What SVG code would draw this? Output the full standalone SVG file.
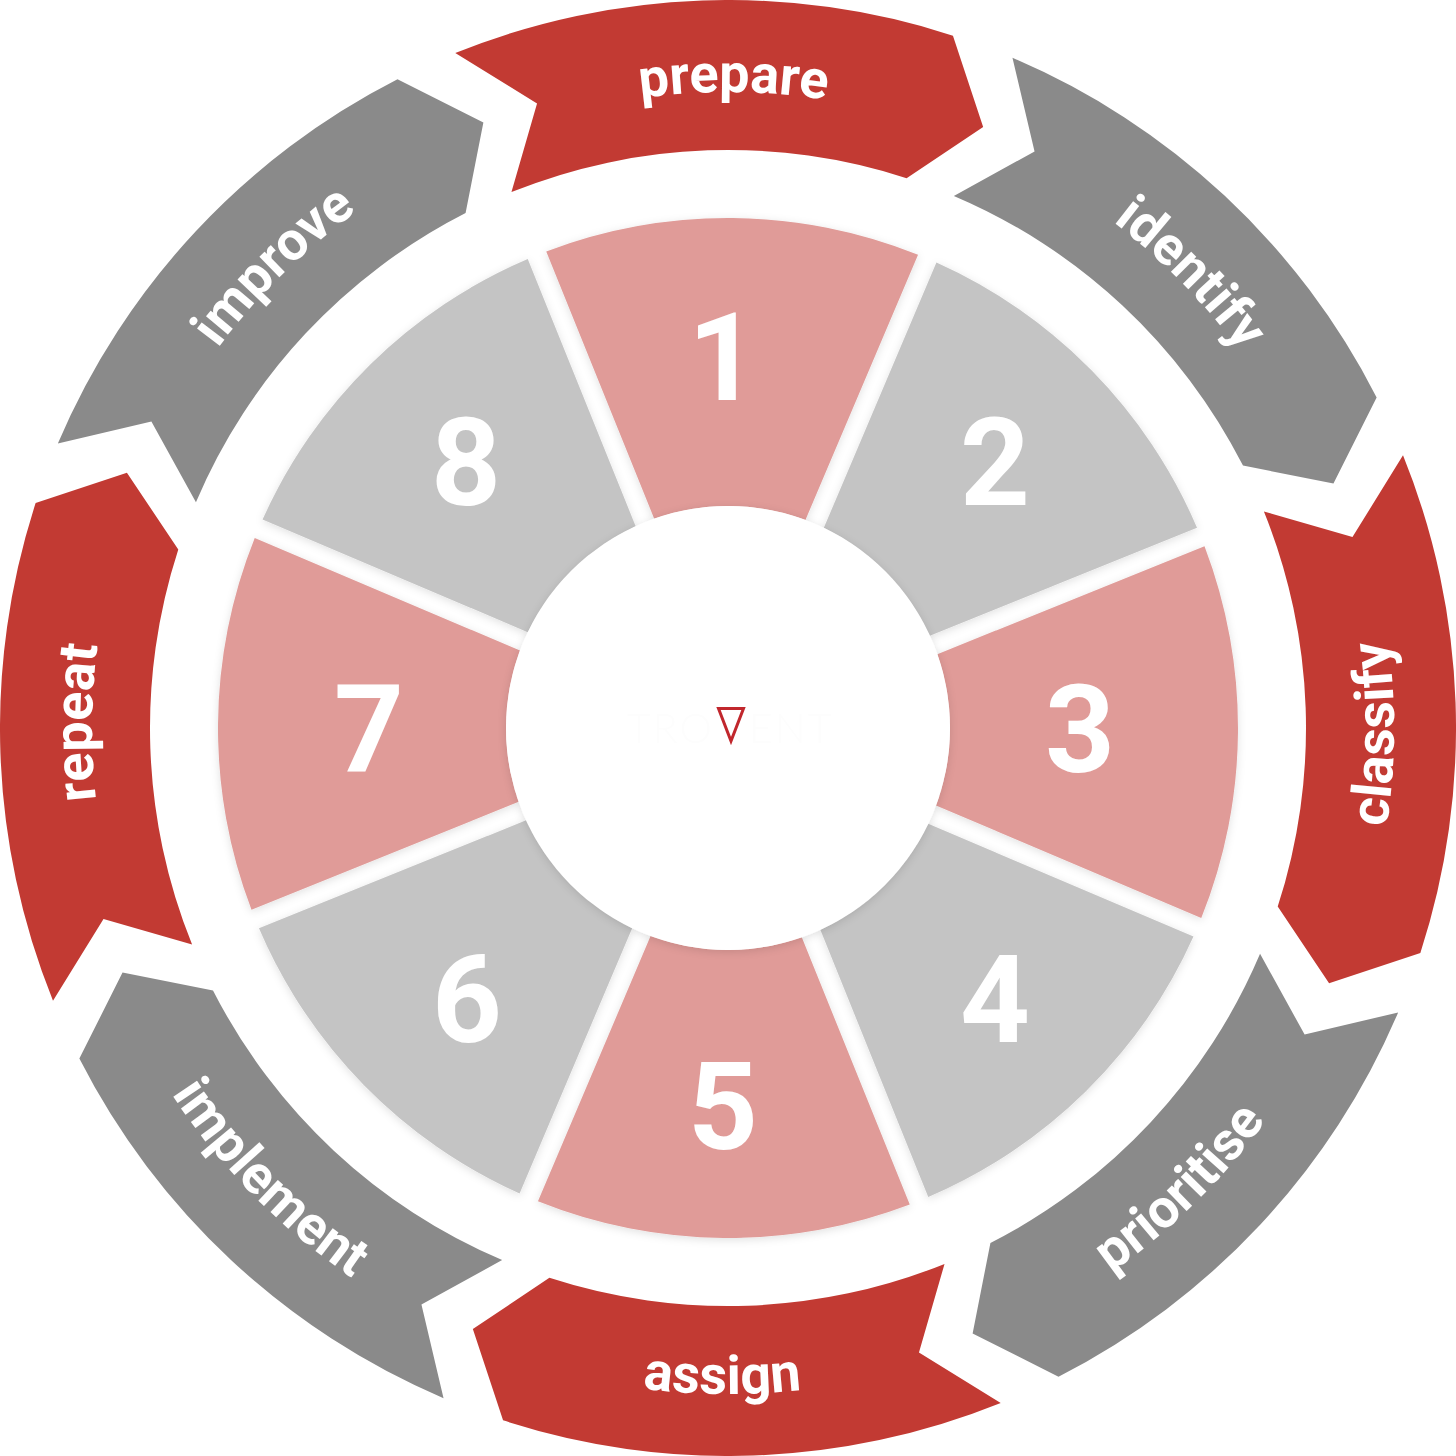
<svg xmlns="http://www.w3.org/2000/svg" xmlns:xlink="http://www.w3.org/1999/xlink" width="1456" height="1456" viewBox="0 0 1456 1456">
<style>
.red{fill:#C23A33}
.gray{fill:#8A8A8A}
.pink{fill:#E09B98}
.lgray{fill:#C4C4C4}
.lbl{font-family:Roboto,"Liberation Sans",sans-serif;font-weight:700;font-size:54px;fill:#FFFFFF}
.num{font-family:Roboto,"Liberation Sans",sans-serif;font-weight:700;font-size:122px;fill:#FFFFFF;text-anchor:middle}
.logo{font-family:Lato,"Liberation Sans",sans-serif;font-weight:300;font-size:41px;fill:#FDFDFD;letter-spacing:2px}
</style>
<defs>
<filter id="sh" x="-20%" y="-20%" width="140%" height="140%">
<feDropShadow dx="0" dy="2" stdDeviation="4" flood-color="#000" flood-opacity="0.12"/>
</filter>
<path id="arrow" d="M 449.4 55.4 A 728 728 0 0 1 946.9 33.7 L 977.9 124.7 L 901.8 176.75 A 578 578 0 0 0 506.8 194.0 L 531.6 105.2 Z"/>
<path id="sector" d="M 542.1 253.1 A 510 510 0 0 1 913.9 253.1 L 803.6 519.3 A 222 222 0 0 0 652.4 519.3 Z"/>
<path id="cw" d="M 319.3 240.8 A 636 636 0 0 1 1136.7 240.8" fill="none"/>
<path id="ccw" d="M 1156.1 217.8 A 666 666 0 0 0 299.9 217.8" fill="none"/>
</defs>
<rect width="1456" height="1456" fill="#FFFFFF"/>
<g id="connectors"/>
<g id="outer-ring">
<g id="step-prepare" transform="rotate(0.5 728 728)"><use xlink:href="#arrow" class="red"/><text class="lbl"><textPath xlink:href="#cw" startOffset="50%" text-anchor="middle">prepare</textPath></text></g>
<g id="step-identify" transform="rotate(45.5 728 728)"><use xlink:href="#arrow" class="gray"/><text class="lbl"><textPath xlink:href="#cw" startOffset="50%" text-anchor="middle">identify</textPath></text></g>
<g id="step-classify" transform="rotate(90.5 728 728)"><use xlink:href="#arrow" class="red"/><text class="lbl"><textPath xlink:href="#ccw" startOffset="50%" text-anchor="middle">classify</textPath></text></g>
<g id="step-prioritise" transform="rotate(135.5 728 728)"><use xlink:href="#arrow" class="gray"/><text class="lbl"><textPath xlink:href="#ccw" startOffset="50%" text-anchor="middle">prioritise</textPath></text></g>
<g id="step-assign" transform="rotate(180.5 728 728)"><use xlink:href="#arrow" class="red"/><text class="lbl"><textPath xlink:href="#ccw" startOffset="50%" text-anchor="middle">assign</textPath></text></g>
<g id="step-implement" transform="rotate(225.5 728 728)"><use xlink:href="#arrow" class="gray"/><text class="lbl"><textPath xlink:href="#ccw" startOffset="50%" text-anchor="middle">implement</textPath></text></g>
<g id="step-repeat" transform="rotate(270.5 728 728)"><use xlink:href="#arrow" class="red"/><text class="lbl"><textPath xlink:href="#cw" startOffset="50%" text-anchor="middle">repeat</textPath></text></g>
<g id="step-improve" transform="rotate(315.5 728 728)"><use xlink:href="#arrow" class="gray"/><text class="lbl"><textPath xlink:href="#cw" startOffset="50%" text-anchor="middle">improve</textPath></text></g>
</g>
<g id="inner-ring" filter="url(#sh)">
<g id="sector-1"><use xlink:href="#sector" class="pink" transform="rotate(0.5 728 728)"/></g>
<g id="sector-2"><use xlink:href="#sector" class="lgray" transform="rotate(45.5 728 728)"/></g>
<g id="sector-3"><use xlink:href="#sector" class="pink" transform="rotate(90.5 728 728)"/></g>
<g id="sector-4"><use xlink:href="#sector" class="lgray" transform="rotate(135.5 728 728)"/></g>
<g id="sector-5"><use xlink:href="#sector" class="pink" transform="rotate(180.5 728 728)"/></g>
<g id="sector-6"><use xlink:href="#sector" class="lgray" transform="rotate(225.5 728 728)"/></g>
<g id="sector-7"><use xlink:href="#sector" class="pink" transform="rotate(270.5 728 728)"/></g>
<g id="sector-8"><use xlink:href="#sector" class="lgray" transform="rotate(315.5 728 728)"/></g>
</g>
<g id="numbers">
<text class="num" x="723" y="400">1</text>
<text class="num" x="995" y="505">2</text>
<text class="num" x="1080" y="772">3</text>
<text class="num" x="995" y="1042">4</text>
<text class="num" x="723" y="1149">5</text>
<text class="num" x="467" y="1042">6</text>
<text class="num" x="369" y="772">7</text>
<text class="num" x="466" y="505">8</text>
</g>
<g id="logo">
<circle cx="728" cy="728" r="222" fill="#FFFFFF" filter="url(#sh)"/>
<text class="logo" x="714" y="743" text-anchor="end">TRO</text>
<polygon points="718.5,708.5 743.5,708.5 731,741" fill="none" stroke="#C1272D" stroke-width="3" stroke-linejoin="miter"/>
<text class="logo" x="749" y="743">ENT</text>
</g>
</svg>
